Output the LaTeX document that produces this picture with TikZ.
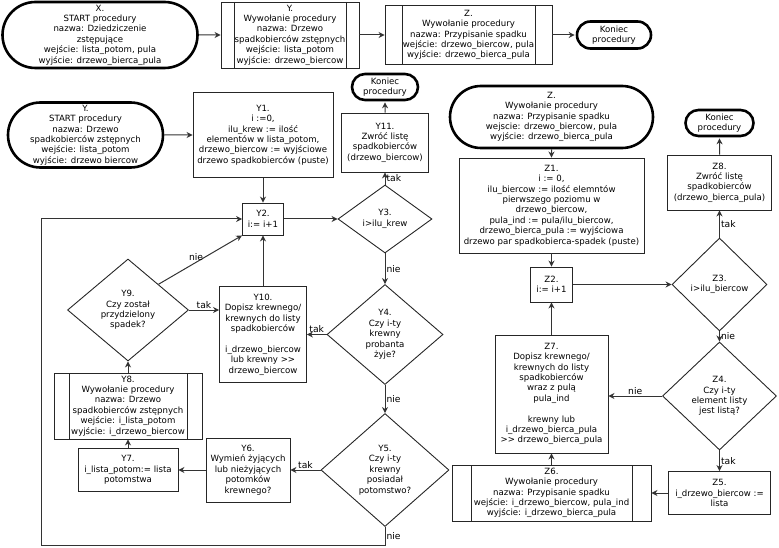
\documentclass[tikz,border=0pt]{standalone}
\usepackage{fontspec}
\setmainfont{DejaVu Sans}
\usetikzlibrary{shapes.geometric, shapes.misc, arrows.meta}

\begin{document}
\begin{tikzpicture}[x=1pt, y=-1pt,
	every node/.style={font=\fontsize{8.6}{10.4}\selectfont, align=center, inner sep=0pt},
	term/.style={rounded rectangle, draw, line width=2.6pt},
	proc/.style={rectangle, draw=black!85, line width=0.9pt},
	subproc/.style={proc, path picture={
		\draw [black!85, line width=0.9pt] ([xshift=#1]path picture bounding box.north west) -- ([xshift=#1]path picture bounding box.south west)
			([xshift=-#1]path picture bounding box.north east) -- ([xshift=-#1]path picture bounding box.south east);}},
	decision/.style={diamond, draw=black!85, line width=0.9pt},
	flow/.style={draw=black!80, line width=1pt, -{Stealth[length=6pt, width=6pt]}},
	lab/.style={font=\fontsize{9.2}{10}\selectfont, inner sep=1pt}]
	\useasboundingbox (0,0) rectangle (779,548);

	\node [term, minimum width=195pt, minimum height=66pt] (X) at (100,35) {X.\\START procedury\\nazwa: Dziedziczenie\\zstępujące\\wejście: lista\_potom, pula\\wyjście: drzewo\_bierca\_pula};
	\node [subproc=13pt, minimum width=138pt, minimum height=66pt] (Ytop) at (290,35) {Y.\\Wywołanie procedury\\nazwa: Drzewo\\spadkobierców zstępnych\\wejście: lista\_potom\\wyjście: drzewo\_biercow};
	\node [subproc=17pt, minimum width=167pt, minimum height=59pt] (Ztop) at (468.5,35) {Z.\\Wywołanie procedury\\nazwa: Przypisanie spadku\\wejście: drzewo\_biercow, pula\\wyjście: drzewo\_bierca\_pula};
	\node [term, minimum width=74pt, minimum height=27pt] (Ktop) at (614,35) {Koniec\\procedury};
	\draw [flow] (X) -- (Ytop);
	\draw [flow] (Ytop) -- (Ztop);
	\draw [flow, shorten >=1pt] (Ztop) -- (Ktop);

	\node [term, minimum width=155pt, minimum height=65pt] (Ystart) at (85.5,135) {Y.\\START procedury\\nazwa: Drzewo\\spadkobierców zstępnych\\wejście: lista\_potom\\wyjście: drzewo biercow};
	\node [proc, minimum width=140pt, minimum height=85pt] (Y1) at (263,135) {Y1.\\i :=0,\\ilu\_krew := ilość\\elementów w lista\_potom,\\drzewo\_biercow := wyjściowe\\drzewo spadkobierców (puste)};
	\node [proc, minimum width=41pt, minimum height=32pt] (Y2) at (263,219) {Y2.\\i:= i+1};
	\node [decision, minimum width=94pt, minimum height=68pt] (Y3) at (385,219) {Y3.\\i>ilu\_krew};
	\node [proc, minimum width=87pt, minimum height=59pt] (Y11) at (385,142.5) {Y11.\\Zwróć listę\\spadkobierców\\(drzewo\_biercow)};
	\node [term, minimum width=66pt, minimum height=26pt] (Ky) at (385,87) {Koniec\\procedury};
	\node [decision, minimum width=116pt, minimum height=100pt] (Y4) at (385,334.5) {Y4.\\Czy i-ty\\krewny\\probanta\\żyje?};
	\node [proc, minimum width=87pt, minimum height=96pt] (Y10) at (263,334.5) {Y10.\\Dopisz krewnego/\\krewnych do listy\\spadkobierców\\[10.4pt]i\_drzewo\_biercow\\lub krewny >\kern0pt>\\drzewo\_biercow};
	\node [decision, minimum width=121pt, minimum height=102pt] (Y9) at (128,310) {Y9.\\Czy został\\przydzielony\\spadek?};
	\node [subproc=15pt, minimum width=148pt, minimum height=66pt] (Y8) at (128,406) {Y8.\\Wywołanie procedury\\nazwa: Drzewo\\spadkobierców zstępnych\\wejście: i\_lista\_potom\\wyjście: i\_drzewo\_biercow};
	\node [proc, minimum width=100pt, minimum height=43pt] (Y7) at (128,470) {Y7.\\i\_lista\_potom:= lista\\potomstwa};
	\node [proc, minimum width=84pt, minimum height=64pt] (Y6) at (248,470) {Y6.\\Wymień żyjących\\lub nieżyjących\\potomków\\krewnego?};
	\node [decision, minimum width=128pt, minimum height=113pt] (Y5) at (385,470) {Y5.\\Czy i-ty\\krewny\\posiadał\\potomstwo?};
	\coordinate (loop) at (41,545);
	\draw [flow] (Ystart) -- (Y1);
	\draw [flow] (Y1) -- (Y2);
	\draw [flow] (Y2) -- (Y3);
	\draw [flow] (Y3) -- node [lab, right] {tak} (Y11);
	\draw [flow, shorten >=1pt] (Y11) -- (Ky);
	\draw [flow] (Y3) -- node [lab, right] {nie} (Y4);
	\draw [flow] (Y4) -- node [lab, above] {tak} (Y10);
	\draw [flow] (Y4) -- node [lab, right] {nie} (Y5);
	\draw [flow] (Y5) -- node [lab, above] {tak} (Y6);
	\draw [flow] (Y6) -- (Y7);
	\draw [flow] (Y7) -- (Y8);
	\draw [flow] (Y8) -- (Y9);
	\draw [flow] (Y9.east) -- node [lab, above] {tak} (Y9.east -| Y10.west);
	\draw [flow] (Y9.north east) -- node [lab, above, pos=0.45] {nie} (Y2.south west);
	\draw [flow] (Y10) -- (Y2);
	\draw [flow] (Y5.south) -- node [lab, right] {nie} (Y5.south |- loop) -- (loop) |- (Y2.west);

	\node [term, minimum width=203pt, minimum height=62pt] (Zstart) at (551.5,117) {Z.\\Wywołanie procedury\\nazwa: Przypisanie spadku\\wejscie: drzewo\_biercow, pula\\wyjście: drzewo\_bierca\_pula};
	\node [proc, minimum width=185pt, minimum height=95pt] (Z1) at (551.5,205.5) {Z1.\\i := 0,\\ilu\_biercow := ilość elemntów\\pierwszego poziomu w\\drzewo\_biercow,\\pula\_ind := pula/ilu\_biercow,\\drzewo\_bierca\_pula := wyjściowa\\drzewo par spadkobierca-spadek (puste)};
	\node [proc, minimum width=42pt, minimum height=35pt] (Z2) at (551.5,284.5) {Z2.\\i:= i+1};
	\node [decision, minimum width=95pt, minimum height=93pt] (Z3) at (719.5,284.5) {Z3.\\i>ilu\_biercow};
	\node [proc, minimum width=104pt, minimum height=55pt] (Z8) at (719.5,182.5) {Z8.\\Zwróć listę\\spadkobierców\\(drzewo\_bierca\_pula)};
	\node [term, minimum width=68pt, minimum height=26pt] (Kz) at (719.5,123) {Koniec\\procedury};
	\node [decision, minimum width=114pt, minimum height=108pt] (Z4) at (719.5,396) {Z4.\\Czy i-ty\\element listy\\jest listą?};
	\node [proc, minimum width=113pt, minimum height=118pt] (Z7) at (551.5,394) {Z7.\\Dopisz krewnego/\\krewnych do listy\\spadkobierców\\wraz z pulą\\pula\_ind\\[10.4pt]krewny lub\\i\_drzewo\_bierca\_pula\\>\kern0pt> drzewo\_bierca\_pula};
	\node [proc, minimum width=102pt, minimum height=43pt] (Z5) at (719.5,493) {Z5.\\i\_drzewo\_biercow :=\\lista};
	\node [subproc=19pt, minimum width=199pt, minimum height=56pt] (Z6) at (551.5,493) {Z6.\\Wywołanie procedury\\nazwa: Przypisanie spadku\\wejście: i\_drzewo\_biercow, pula\_ind\\wyjście: i\_drzewo\_bierca\_pula};
	\draw [flow] (Zstart) -- (Z1);
	\draw [flow] (Z1) -- (Z2);
	\draw [flow] (Z2) -- (Z3);
	\draw [flow] (Z3) -- node [lab, right] {tak} (Z8);
	\draw [flow, shorten >=1pt] (Z8) -- (Kz);
	\draw [flow] (Z3) -- node [lab, right] {nie} (Z4);
	\draw [flow] (Z4.west) -- node [lab, above] {nie} (Z4.west -| Z7.east);
	\draw [flow] (Z4) -- node [lab, right] {tak} (Z5);
	\draw [flow] (Z5) -- (Z6);
	\draw [flow] (Z6) -- (Z7);
	\draw [flow] (Z7) -- (Z2);
\end{tikzpicture}
\end{document}
